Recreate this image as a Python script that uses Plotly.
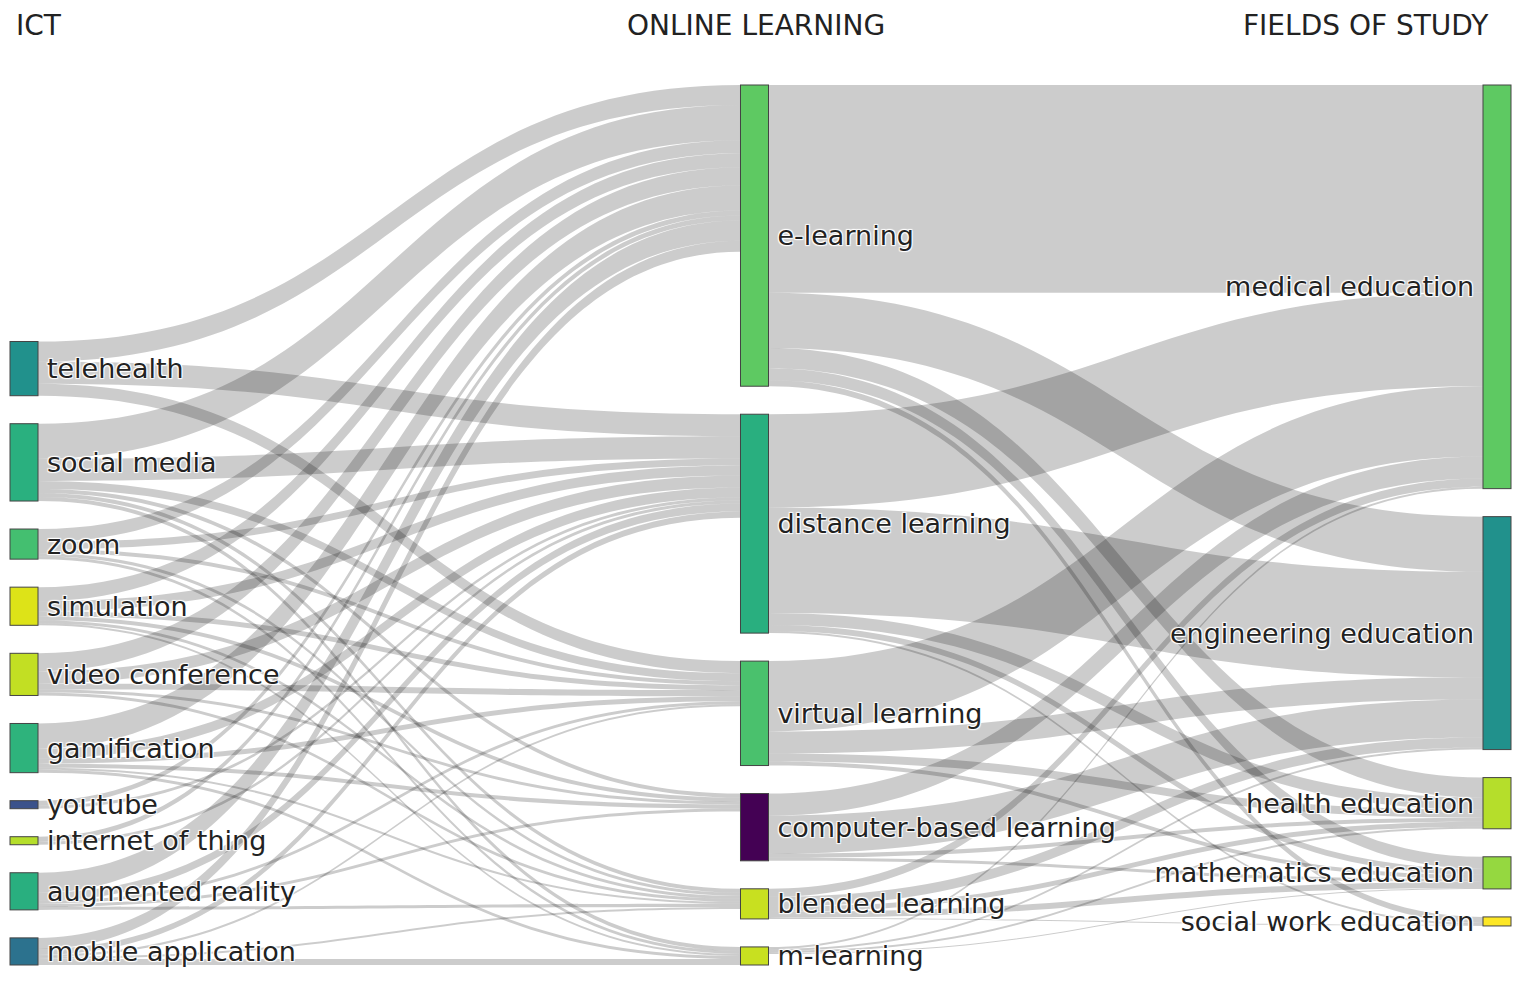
import plotly.graph_objects as go

# ---- data ----
ict = ["telehealth", "social media", "zoom", "simulation", "video conference",
       "gamification", "youtube", "internet of thing", "augmented reality",
       "mobile application"]
online = ["e-learning", "distance learning", "virtual learning",
          "computer-based learning", "blended learning", "m-learning"]
fields = ["medical education", "engineering education", "health education",
          "mathematics education", "social work education"]

# ICT -> online learning (rows: ict, cols: online)
ict_to_online = [
    [20, 22, 12, 0, 0, 0],   # telehealth
    [35, 22, 8, 4, 4, 4],    # social media
    [13, 7, 4, 0, 3, 3],     # zoom
    [14, 10, 5, 4, 3, 2],    # simulation
    [18, 12, 6, 3, 3, 0],    # video conference
    [25, 10, 5, 4, 2, 3],    # gamification
    [5, 3, 0, 0, 0, 0],      # youtube
    [5, 3, 0, 0, 0, 0],      # internet of thing
    [20, 8, 3, 3, 3, 0],     # augmented reality
    [11, 6, 2, 0, 2, 6],     # mobile application
]
# online learning -> fields (rows: online, cols: fields)
online_to_fields = [
    [207, 55, 20, 12, 6],   # e-learning
    [93, 105, 12, 6, 2],    # distance learning
    [70, 22, 8, 4, 0],      # virtual learning
    [22, 38, 4, 3, 0],      # computer-based learning
    [8, 10, 5, 6, 1],       # blended learning
    [2, 2, 2, 1, 0],        # m-learning
]
column_titles = ["ICT", "ONLINE LEARNING", "FIELDS OF STUDY"]

ict_colors = ["#21918c", "#2ab07f", "#44bf70", "#dde318", "#c2df23",
              "#2eb37c", "#3b528b", "#b5de2b", "#29af7f", "#2c728e"]
online_colors = ["#5ec962", "#29af7f", "#4ac16d", "#440154", "#c8e020", "#c8e020"]
field_colors = ["#5ec962", "#21918c", "#b5de2b", "#95d840", "#fde725"]

# ---- layout parameters ----
W, Hfig = 1515, 975
M = dict(l=2, r=12, t=77, b=18)
PAD, THICK = 28, 28
plot_w = W - M["l"] - M["r"]
plot_h = Hfig - M["t"] - M["b"]

n_ict, n_on = len(ict), len(online)
SP = "\u2009"  # thin space: small gap between node and its label
labels = [SP + s for s in ict] + [SP + s for s in online] + [s + SP for s in fields]
colors = ict_colors + online_colors + field_colors

src, tgt, val = [], [], []
for i, row in enumerate(ict_to_online):
    for j, v in enumerate(row):
        if v > 0:
            src.append(i); tgt.append(n_ict + j); val.append(v)
for i, row in enumerate(online_to_fields):
    for j, v in enumerate(row):
        if v > 0:
            src.append(n_ict + i); tgt.append(n_ict + n_on + j); val.append(v)

# node totals (max of in/out), as plotly computes them
inflow = [0] * len(labels)
outflow = [0] * len(labels)
for s, t, v in zip(src, tgt, val):
    outflow[s] += v
    inflow[t] += v
node_val = [max(a, b) for a, b in zip(inflow, outflow)]

columns = [list(range(n_ict)),
           list(range(n_ict, n_ict + n_on)),
           list(range(n_ict + n_on, len(labels)))]
ky = min((plot_h - (len(c) - 1) * PAD) / sum(node_val[k] for k in c) for c in columns)

col_x = [THICK / 2 / plot_w, 0.496, 1 - THICK / 2 / plot_w]
align_bottom = [True, False, False]
node_x = [0.0] * len(labels)
node_y = [0.0] * len(labels)
for ci, c in enumerate(columns):
    total = sum(node_val[k] for k in c) * ky + (len(c) - 1) * PAD
    y = plot_h - total if align_bottom[ci] else 0.0
    for k in c:
        h = node_val[k] * ky
        node_x[k] = col_x[ci]
        node_y[k] = max((y + h / 2) / plot_h, 0.001)
        y += h + PAD

fig = go.Figure(go.Sankey(
    arrangement="snap",
    node=dict(label=labels, color=colors, pad=PAD, thickness=THICK,
              x=node_x, y=node_y,
              line=dict(color="#444", width=1)),
    link=dict(source=src, target=tgt, value=val, color="rgba(0,0,0,0.2)"),
    textfont=dict(family="DejaVu Sans", size=27, color="#222"),
))

title_x = [0.0, 0.5, 1.0]
title_anchor = ["left", "center", "right"]
title_shift = [4, -5, -20]
for t, x, a, s in zip(column_titles, title_x, title_anchor, title_shift):
    fig.add_annotation(text=t, x=x, y=1.0, xref="paper", yref="paper",
                       xanchor=a, yanchor="middle", yshift=60, xshift=s,
                       showarrow=False,
                       font=dict(family="DejaVu Sans", size=28, color="#222"))

fig.update_layout(width=W, height=Hfig, paper_bgcolor="white", margin=M)
fig.write_html("out.html")
